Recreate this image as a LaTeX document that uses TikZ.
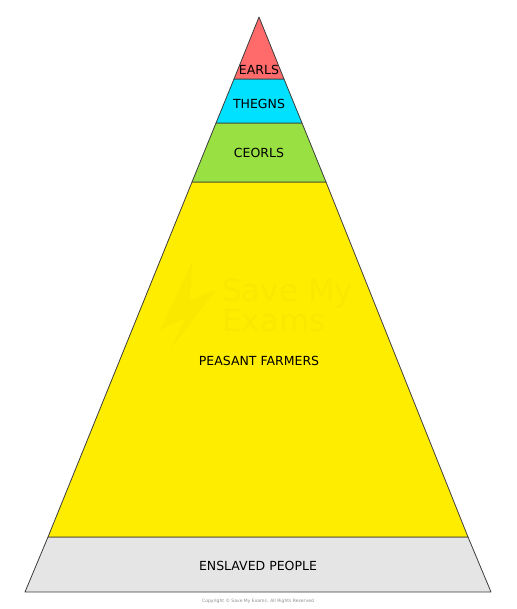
\documentclass[tikz,border=0pt]{standalone}
\usepackage{fontspec}
\setmainfont{DejaVu Sans}
\usepackage{tikz}

\definecolor{earlred}{RGB}{255,107,107}
\definecolor{thegncyan}{RGB}{0,225,255}
\definecolor{ceorlgreen}{RGB}{153,224,66}
\definecolor{peasantyellow}{RGB}{255,237,0}
\definecolor{slavegrey}{RGB}{229,229,229}
\definecolor{edgegrey}{RGB}{60,60,60}
\definecolor{markyellow}{RGB}{250,232,0}

\tikzset{
  layer/.style={draw=edgegrey,line width=0.8pt,line join=round},
  rank/.style={font=\fontsize{12.5}{14}\selectfont,text=black,inner sep=0pt}
}

\begin{document}
\begin{tikzpicture}[x=1pt,y=-1pt]
\useasboundingbox (0,0) rectangle (516,609);

% --- enslaved people at the bottom
\draw[layer,fill=slavegrey] (48,537) -- (468,537) -- (491,592) -- (25,592) -- cycle;
% --- peasant farmers
\draw[layer,fill=peasantyellow] (192,182) -- (326,182) -- (468,537) -- (48,537) -- cycle;
% ---- faint watermark on the yellow band
\begin{scope}
\clip (192,183) -- (326,183) -- (467,536) -- (49,536) -- cycle;
\fill[markyellow] (192,262) -- (160,330) -- (186,318) -- (170,350) -- (216,290) -- (190,300) -- cycle;
\node[markyellow,font=\fontsize{31}{29}\selectfont,align=left,anchor=north west,inner sep=0pt]
  (mark) at (222,278) {Save My\\Exams};
\end{scope}
% --- ceorls
\draw[layer,fill=ceorlgreen] (216,123) -- (302,123) -- (326,182) -- (192,182) -- cycle;
% --- thegns
\draw[layer,fill=thegncyan] (234,79) -- (284,79) -- (302,123) -- (216,123) -- cycle;
% --- earls at the top
\draw[layer,fill=earlred] (259,17) -- (284,79) -- (234,79) -- cycle;

% ---- the labels of the layers
\node[rank] (earls) at (259,70) {EARLS};
\node[rank] (thegns) at (259,104) {THEGNS};
\node[rank] (ceorls) at (259,153) {CEORLS};
\node[rank] (peasants) at (259,361) {PEASANT FARMERS};
\node[rank] (enslaved) at (258,566) {ENSLAVED PEOPLE};

% ---- small print under the pyramid
\node[font=\fontsize{4.5}{5}\selectfont,text=black!45,inner sep=0pt] (copy) at (258,601)
  {Copyright \textcopyright\ Save My Exams. All Rights Reserved};
\end{tikzpicture}
\end{document}
